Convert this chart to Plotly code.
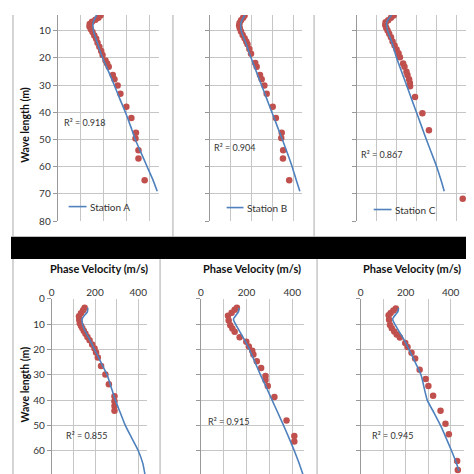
import plotly.graph_objects as go

W = 474
# ---- data: (velocity m/s, wavelength m) ----
A_pts_v = [187,178,165,150,140,139,145,152,160,168,174,182,190,196,209,216,223,241,248,262,274,300,322,342,340,353,353,380]
A_pts_d = [4.5,5.3,6.0,6.8,7.6,8.5,9.5,10.5,11.8,13,14.5,16,17.5,19,21.0,22.1,23.3,26.3,27.9,30.2,33.2,38.0,42.1,47.5,49.6,54.0,57.0,65.0]
A_fit_v = [170,155,156,175,196,222,247,271,296,318,339,365,391,417,435]
A_fit_d = [4.3,7,10,15,20,25,30,35,40,45,50,55,60,65,69]

B_pts_v = [167,160,150,143,141,144,150,158,167,175,181,190,198,218,225,241,249,262,273,302,317,345,343,352,351,381]
B_pts_d = [4.5,5.3,6.2,7.2,8.2,9.2,10.4,11.6,12.8,14,15,16.8,18.5,21.9,23.3,26.3,27.9,30.2,33.2,38.0,42.1,47.5,49.5,54.0,57.0,65.0]
B_fit_v = [168,150,151,175,198,223,248,273,298,323,348,372,395,415,432]
B_fit_d = [4.3,7,10,15,20,25,30,35,40,45,50,55,60,65,69]

C_pts_v = [185,172,158,145,143,148,155,163,172,180,190,200,210,217,233,240,250,255,263,267,268,293,330,363,533]
C_pts_d = [4.5,5.3,6.2,7.0,8.0,9.0,10,11.2,12.5,14,15.5,17,18.3,19.8,22.1,23.3,25.1,26.3,27.9,29.3,30.5,34.4,40.4,46.6,71.8]
C_fit_v = [175,150,155,180,200,225,250,275,300,325,350,376,402,424,440]
C_fit_d = [4.3,7,10,15,20,25,30,35,40,45,50,55,60,65,69]

D_pts_v = [152,145,135,126,127,130,135,141,148,156,165,175,187,198,205,213,228,248,264,290,290,290,290]
D_pts_d = [3.5,4.5,5.6,6.8,8.2,9.6,10.6,11.5,12.6,13.7,15,16.3,18,19.6,21.2,23.1,26.5,29.9,33.7,38.5,40.4,42.3,44.2]
D_fit_v = [167,165,140,150,175,198,227,256,275,294,317,340,370,400,421,432]
D_fit_d = [3.5,5,8,12,16,20,25,30,35,40,45,50,55,60,65,70]

E_pts_v = [158,148,135,119,122,129,138,148,170,199,210,225,230,245,264,283,283,293,322,375,409,409]
E_pts_d = [3.5,4.3,5.4,6.6,8.5,10.4,11.7,13,15.1,16.9,18.8,20.5,22,24.6,27.3,30.5,32,34.4,38.8,48.1,54.2,56.4]
E_fit_v = [167,165,143,165,190,213,237,261,287,312,337,362,386,409,430,449]
E_fit_d = [3.5,5,8,12,16,20,25,30,35,40,45,50,55,60,65,70]

F_pts_v = [156,145,133,124,126,130,138,149,160,174,198,208,226,242,262,289,301,322,355,377,392,429,432]
F_pts_d = [3.8,4.6,5.5,6.4,8.2,10.3,11.6,12.9,14,15.2,17.4,19,21.3,23.5,28,31.6,34.4,38.3,44.2,49.3,53.5,64.1,67.6]
F_fit_v = [168,165,142,165,192,215,242,268,296,326,355,380,404,422,437]
F_fit_d = [3.5,5,8,12,16,20,25,30,40,45,50,55,60,64,68]

R2 = ["R² = 0.918", "R² = 0.904", "R² = 0.867", "R² = 0.855", "R² = 0.915", "R² = 0.945"]
stations = ["Station A", "Station B", "Station C"]

RED = "#c0504d"; BLUE = "#4f81bd"; GRID = "#c6c6c6"; FONT = "Lato"

def px(x): return x / W
def py(y): return 1 - y / W

panels = [
    (A_pts_v, A_pts_d, A_fit_v, A_fit_d, (47, 149), 443, (0, 212), [80, 4.3], True),
    (B_pts_v, B_pts_d, B_fit_v, B_fit_d, (200, 293), 443, (0, 212), [80, 4.3], True),
    (C_pts_v, C_pts_d, C_fit_v, C_fit_d, (348, 458), 550, (0, 212), [80, 4.3], True),
    (D_pts_v, D_pts_d, D_fit_v, D_fit_d, (41, 137), 441, (292, 474), [70, 0], False),
    (E_pts_v, E_pts_d, E_fit_v, E_fit_d, (191, 295), 452, (292, 474), [70, 0], False),
    (F_pts_v, F_pts_d, F_fit_v, F_fit_d, (352, 456), 460, (292, 474), [70, 0], False),
]

fig = go.Figure()
layout = {}
for i, (pv, pd_, fv, fd, xd, xr, yd, yr, top) in enumerate(panels):
    n = i + 1
    xa = "x" if n == 1 else f"x{n}"
    ya = "y" if n == 1 else f"y{n}"
    fig.add_trace(go.Scatter(x=pv, y=pd_, mode="markers", xaxis=xa, yaxis=ya,
                             marker=dict(color=RED, size=6.5), showlegend=False))
    fig.add_trace(go.Scatter(x=fv, y=fd, mode="lines", xaxis=xa, yaxis=ya,
                             line=dict(color=BLUE, width=1.6, shape="spline", smoothing=0.6),
                             showlegend=False))
    xk = "xaxis" if n == 1 else f"xaxis{n}"
    yk = "yaxis" if n == 1 else f"yaxis{n}"
    xticks = list(range(0, int(xr) + 1, 100))
    layout[xk] = dict(domain=[px(xd[0]), px(xd[1])], range=[0, xr], anchor=ya, side="top",
                      tickvals=xticks, ticktext=[str(t) if t % 200 == 0 else "" for t in xticks],
                      showticklabels=not top, showgrid=True, gridcolor=GRID, zeroline=False,
                      ticks="", tickfont=dict(family=FONT, size=10, color="#333"),
                      showline=False, fixedrange=True)
    yticks = list(range(0, 81, 10)) if top else list(range(0, 61, 10))
    layout[yk] = dict(domain=[py(yd[1]), py(yd[0])], range=yr, anchor=xa,
                      tickvals=yticks, showticklabels=(n in (1, 4)), showgrid=True,
                      gridcolor=GRID, zeroline=False, ticks="outside", ticklen=4,
                      tickcolor="#999", showline=True, linecolor="#999",
                      tickfont=dict(family=FONT, size=10, color="#333"), fixedrange=True)

fig.update_layout(**layout)

shapes = []
ann = []
shapes.append(dict(type="rect", xref="paper", yref="paper", x0=0, x1=1, y0=py(251), y1=py(228),
                   fillcolor="black", line=dict(width=0), layer="above"))
for x in (2, 163, 305, 470):
    shapes.append(dict(type="line", xref="paper", yref="paper", x0=px(x), x1=px(x), y0=py(228), y1=1,
                       line=dict(color="#aaa", width=1)))
for x in (2, 150, 308, 469):
    shapes.append(dict(type="line", xref="paper", yref="paper", x0=px(x), x1=px(x), y0=0, y1=py(251),
                       line=dict(color="#aaa", width=1)))
for (x0, x1, yy), name in zip([(58, 76, 197), (217, 234, 198), (365, 383, 200)], stations):
    shapes.append(dict(type="line", xref="paper", yref="paper", x0=px(x0), x1=px(x1), y0=py(yy), y1=py(yy),
                       line=dict(color=BLUE, width=1.6)))
    ann.append(dict(xref="paper", yref="paper", x=px(x1 + 1), y=py(yy), text=name, showarrow=False,
                    xanchor="left", yanchor="middle", font=dict(family=FONT, size=10, color="#333")))
for (x, y), t in zip([(51, 111), (202, 136), (350, 143), (53, 432), (196, 418), (361, 432)], R2):
    ann.append(dict(xref="paper", yref="paper", x=px(x), y=py(y), text=t, showarrow=False,
                    xanchor="left", yanchor="middle", font=dict(family=FONT, size=9, color="#333")))
for x in (89, 243, 404):
    ann.append(dict(xref="paper", yref="paper", x=px(x), y=py(261), text="<b>Phase Velocity (m/s)</b>",
                    showarrow=False, xanchor="center", yanchor="middle",
                    font=dict(family=FONT, size=11, color="#111")))
for y in (113, 380):
    ann.append(dict(xref="paper", yref="paper", x=px(14), y=py(y), text="<b>Wave length (m)</b>",
                    showarrow=False, textangle=-90, xanchor="center", yanchor="middle",
                    font=dict(family=FONT, size=10.5, color="#111")))

fig.update_layout(width=W, height=W, margin=dict(l=0, r=0, t=0, b=0),
                  paper_bgcolor="white", plot_bgcolor="white", shapes=shapes, annotations=ann,
                  showlegend=False)
fig.write_html("out.html")
